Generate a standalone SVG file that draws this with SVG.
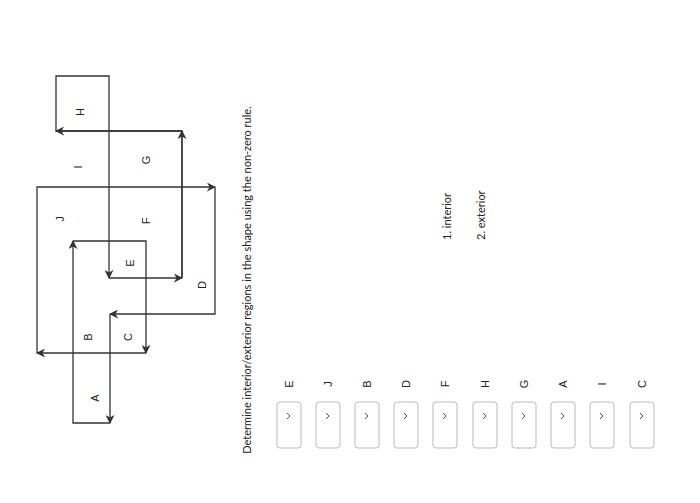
<svg xmlns="http://www.w3.org/2000/svg" width="700" height="503" viewBox="0 0 700 503">
<style>
.e{stroke:#333;stroke-width:1.3;fill:none}
.l{font-family:"Liberation Sans",Arial,sans-serif;font-size:11px;fill:#222;text-anchor:middle;dominant-baseline:central}
.t{font-family:Lato,"Liberation Sans",sans-serif;font-size:11px;fill:#222}
.b{fill:#fff;stroke:#bbb;stroke-width:1}
.c{stroke:#555;stroke-width:1;fill:none}
</style>
<defs><marker id="a" viewBox="0 0 10 10" refX="9" refY="5" markerWidth="9" markerHeight="9" orient="auto" markerUnits="userSpaceOnUse"><path d="M0,0 L10,5 L0,10 L3,5z" fill="#333"/></marker></defs>
<rect width="700" height="503" fill="#fff"/>
<g id="connectors">
<path class="e" d="M182,278 V131 H56 V76 H109 V278" marker-end="url(#a)"/>
<path class="e" d="M56,131" />
<path class="e" d="M109,278 H182" marker-end="url(#a)"/>
<path class="e" d="M182,278 V131" marker-end="url(#a)"/>
<path class="e" d="M182,131 H56" marker-end="url(#a)"/>
<path class="e" d="M37,353 V187 H215" marker-end="url(#a)"/>
<path class="e" d="M215,187 V314 H110" marker-end="url(#a)"/>
<path class="e" d="M110,314 V423" marker-end="url(#a)"/>
<path class="e" d="M110,423 H73 V241" marker-end="url(#a)"/>
<path class="e" d="M73,241 H146 V353" marker-end="url(#a)"/>
<path class="e" d="M146,353 H37" marker-end="url(#a)"/>
</g>
<g id="labels">
<text class="l" transform="translate(80,112) rotate(-90)">H</text>
<text class="l" transform="translate(78,167) rotate(-90)">I</text>
<text class="l" transform="translate(146,160) rotate(-90)">G</text>
<text class="l" transform="translate(60,219) rotate(-90)">J</text>
<text class="l" transform="translate(146,221) rotate(-90)">F</text>
<text class="l" transform="translate(130,263) rotate(-90)">E</text>
<text class="l" transform="translate(202,285) rotate(-90)">D</text>
<text class="l" transform="translate(88,337) rotate(-90)">B</text>
<text class="l" transform="translate(128,337) rotate(-90)">C</text>
<text class="l" transform="translate(95,398) rotate(-90)">A</text>
</g>
<g id="question">
<text class="t" text-anchor="middle" transform="translate(251,280) rotate(-90)">Determine interior/exterior regions in the shape using the non-zero rule.</text>
<text class="t" transform="translate(451,240) rotate(-90)">1.  interior</text>
<text class="t" transform="translate(485,240) rotate(-90)">2.  exterior</text>
</g>
<g id="dropdowns">
<g id="dd-E"><text class="l" transform="translate(289,384) rotate(-90)">E</text><rect class="b" x="277" y="402" width="24" height="46" rx="3"/><path class="c" d="M287,413 l3,3 l-3,3"/></g>
<g id="dd-J"><text class="l" transform="translate(328,384) rotate(-90)">J</text><rect class="b" x="316" y="402" width="24" height="46" rx="3"/><path class="c" d="M326,413 l3,3 l-3,3"/></g>
<g id="dd-B"><text class="l" transform="translate(367,384) rotate(-90)">B</text><rect class="b" x="355" y="402" width="24" height="46" rx="3"/><path class="c" d="M365,413 l3,3 l-3,3"/></g>
<g id="dd-D"><text class="l" transform="translate(406,384) rotate(-90)">D</text><rect class="b" x="394" y="402" width="24" height="46" rx="3"/><path class="c" d="M404,413 l3,3 l-3,3"/></g>
<g id="dd-F"><text class="l" transform="translate(445,384) rotate(-90)">F</text><rect class="b" x="433" y="402" width="24" height="46" rx="3"/><path class="c" d="M443,413 l3,3 l-3,3"/></g>
<g id="dd-H"><text class="l" transform="translate(485,384) rotate(-90)">H</text><rect class="b" x="473" y="402" width="24" height="46" rx="3"/><path class="c" d="M483,413 l3,3 l-3,3"/></g>
<g id="dd-G"><text class="l" transform="translate(524,384) rotate(-90)">G</text><rect class="b" x="512" y="402" width="24" height="46" rx="3"/><path class="c" d="M522,413 l3,3 l-3,3"/></g>
<g id="dd-A"><text class="l" transform="translate(563,384) rotate(-90)">A</text><rect class="b" x="551" y="402" width="24" height="46" rx="3"/><path class="c" d="M561,413 l3,3 l-3,3"/></g>
<g id="dd-I"><text class="l" transform="translate(602,384) rotate(-90)">I</text><rect class="b" x="590" y="402" width="24" height="46" rx="3"/><path class="c" d="M600,413 l3,3 l-3,3"/></g>
<g id="dd-C"><text class="l" transform="translate(642,384) rotate(-90)">C</text><rect class="b" x="630" y="402" width="24" height="46" rx="3"/><path class="c" d="M640,413 l3,3 l-3,3"/></g>
</g>
</svg>
